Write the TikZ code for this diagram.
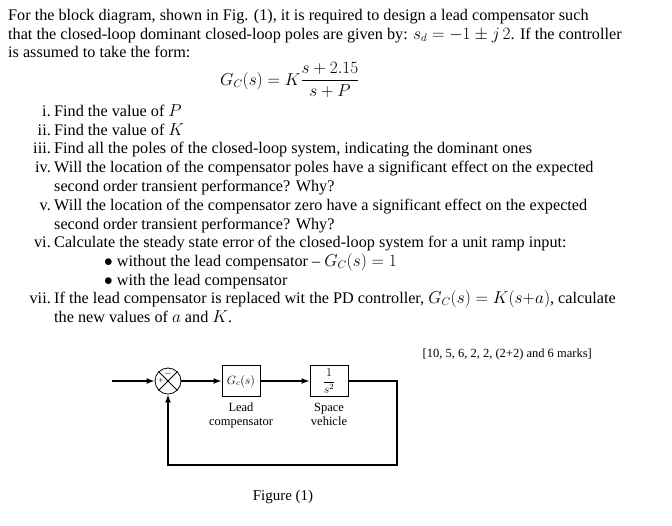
\documentclass[tikz,border=0pt]{standalone}
\usepackage{amsmath}
\usepackage{fontspec}
\setmainfont{Liberation Serif}
\usetikzlibrary{positioning,arrows.meta}
\tikzset{
  txt/.style={anchor=base west,inner sep=0pt,font=\fontsize{16.2}{19}\selectfont},
  num/.style={anchor=base east,inner sep=0pt,font=\fontsize{16.2}{19}\selectfont},
  blk/.style={draw,thick,minimum width=38pt,minimum height=31pt,inner sep=1pt,font=\fontsize{12}{13}\selectfont},
  lbl/.style={align=center,inner sep=0pt,font=\fontsize{12.5}{14}\selectfont},
  sig/.style={-{Latex[length=8pt,width=6pt]},line width=1.8pt},
}
\begin{document}
\begin{tikzpicture}[x=1pt,y=-1pt]
  \useasboundingbox (0,0) rectangle (672,525);
  % problem statement
  \node[txt] (l1) at (8,20) {For the block diagram, shown in Fig. (1), it is required to design a lead compensator such};
  \node[txt] (l2) at (8,39) {that the closed-loop dominant closed-loop poles are given by: $s_d=-1\pm j\,2$. If the controller};
  \node[txt] (l3) at (8,57) {is assumed to take the form:};
  \node[txt] (gc) at (220,85) {$G_C(s)=K\dfrac{s+2.15}{s+P}$};
  % questions
  \def\qx{51}
  \node[num] at (\qx,116) {i.};   \node[txt] at (54,116) {Find the value of $P$};
  \node[num] at (\qx,135) {ii.};  \node[txt] at (54,135) {Find the value of $K$};
  \node[num] at (\qx,153) {iii.}; \node[txt] at (54,153) {Find all the poles of the closed-loop system, indicating the dominant ones};
  \node[num] at (\qx,172) {iv.};  \node[txt] at (54,172) {Will the location of the compensator poles have a significant effect on the expected};
  \node[txt] at (54,191) {second order transient performance? Why?};
  \node[num] at (\qx,210) {v.};   \node[txt] at (54,210) {Will the location of the compensator zero have a significant effect on the expected};
  \node[txt] at (54,229) {second order transient performance? Why?};
  \node[num] at (\qx,247) {vi.};  \node[txt] at (54,247) {Calculate the steady state error of the closed-loop system for a unit ramp input:};
  \node[txt] at (104,266) {$\bullet$\ without the lead compensator -- $G_C(s)=1$};
  \node[txt] at (104,285) {$\bullet$\ with the lead compensator};
  \node[num] at (\qx,303) {vii.}; \node[txt] at (54,303) {If the lead compensator is replaced wit the PD controller, $G_C(s)=K(s{+}a)$, calculate};
  \node[txt] at (54,322) {the new values of $a$ and $K$.};
  \node[anchor=base east,inner sep=0pt,font=\fontsize{12.5}{14}\selectfont] (marks) at (592,357) {[10, 5, 6, 2, 2, (2+2) and 6 marks]};
  % block diagram
  \coordinate (in) at (112,381);
  \node[draw,thick,circle,minimum size=26pt,inner sep=0pt] (sum) at (168,381) {};
  \draw[thick] (sum.north west) -- (sum.south east) (sum.north east) -- (sum.south west);
  \node[font=\fontsize{9}{9}\selectfont,inner sep=0pt] at ([xshift=-7pt]sum.center) {+};
  \node[font=\fontsize{10}{10}\selectfont,inner sep=0pt] at ([yshift=7pt]sum.center) {$-$};
  \node[blk] (comp) at (241,381) {$G_c(s)$};
  \node[blk] (veh) at (329,381) {$\dfrac{1}{s^2}$};
  \node[lbl,below=6pt of comp] {Lead\\compensator};
  \node[lbl,below=6pt of veh] {Space\\vehicle};
  \coordinate (c1) at (397,381);
  \coordinate (c2) at (397,465);
  \coordinate (c3) at (168,465);
  \draw[sig] (in) -- (sum);
  \draw[sig] (sum) -- (comp);
  \draw[sig] (comp) -- (veh);
  \draw[sig] (veh.east) -- (c1) -- (c2) -- (c3) -- (sum);
  \node[font=\fontsize{15}{17}\selectfont] (fig) at (283,497) {Figure (1)};
\end{tikzpicture}
\end{document}
